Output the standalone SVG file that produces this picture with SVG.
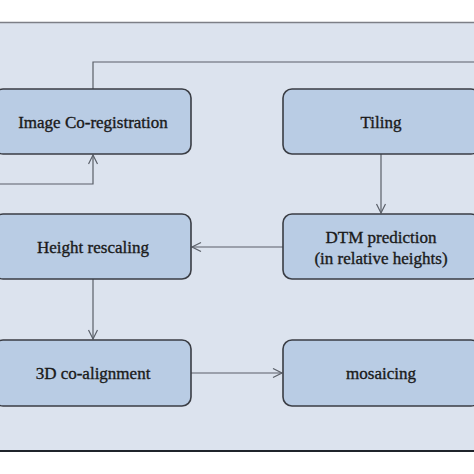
<svg xmlns="http://www.w3.org/2000/svg" width="474" height="474" viewBox="0 0 474 474">
<defs>
<style>
.box{fill:#b9cce4;stroke:#3a3d44;stroke-width:1.6}
.lbl{font-family:"Liberation Serif","Times New Roman",serif;font-size:17px;fill:#1a1a1a;stroke:#1a1a1a;stroke-width:0.35;text-anchor:middle}
.con{fill:none;stroke:#5a5f68;stroke-width:1.2}
</style>
<marker id="arr" markerWidth="12" markerHeight="12" refX="10" refY="5" orient="auto" markerUnits="userSpaceOnUse">
<path d="M1,0.5 L10,5 L1,9.5" fill="none" stroke="#5a5f68" stroke-width="1.2"/>
</marker>
</defs>
<rect x="0" y="0" width="474" height="474" fill="#ffffff"/>
<rect x="0" y="23" width="474" height="428" fill="#dce3ee"/>
<line x1="0" y1="22.5" x2="474" y2="22.5" stroke="#7d7f86" stroke-width="1.5"/>
<line x1="0" y1="451" x2="474" y2="451" stroke="#1f242b" stroke-width="2"/>
<g id="connectors">
<polyline class="con" points="93,89 93,62 474,62"/>
<polyline class="con" points="0,184 93,184 93,155" marker-end="url(#arr)"/>
<line class="con" x1="381" y1="154" x2="381" y2="213" marker-end="url(#arr)"/>
<line class="con" x1="283" y1="247" x2="192" y2="247" marker-end="url(#arr)"/>
<line class="con" x1="93" y1="279" x2="93" y2="339" marker-end="url(#arr)"/>
<line class="con" x1="191" y1="373" x2="282" y2="373" marker-end="url(#arr)"/>
</g>
<g id="image-coregistration">
<rect class="box" x="-6" y="89" width="197" height="65" rx="9"/>
<text class="lbl" x="93" y="128">Image Co-registration</text>
</g>
<g id="tiling">
<rect class="box" x="283" y="89" width="197" height="65" rx="9"/>
<text class="lbl" x="381" y="128">Tiling</text>
</g>
<g id="height-rescaling">
<rect class="box" x="-6" y="214" width="197" height="65" rx="9"/>
<text class="lbl" x="93" y="253">Height rescaling</text>
</g>
<g id="dtm-prediction">
<rect class="box" x="283" y="214" width="197" height="65" rx="9"/>
<text class="lbl" x="381" y="243">DTM prediction</text>
<text class="lbl" x="381" y="264">(in relative heights)</text>
</g>
<g id="co-alignment">
<rect class="box" x="-6" y="340" width="197" height="66" rx="9"/>
<text class="lbl" x="93" y="379">3D co-alignment</text>
</g>
<g id="mosaicing">
<rect class="box" x="283" y="340" width="197" height="66" rx="9"/>
<text class="lbl" x="381" y="379">mosaicing</text>
</g>
</svg>
